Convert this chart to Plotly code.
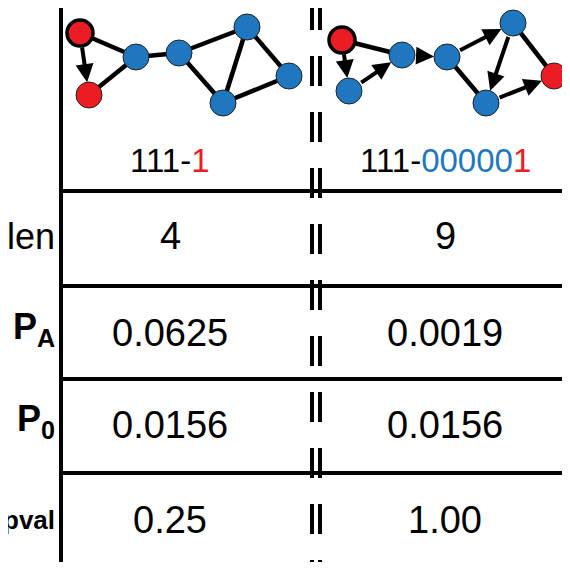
import plotly.graph_objects as go

RED = "#ec1c24"; BLUE = "#1f77c0"
# graph 1
g1_x = [80, 89, 136, 179, 247, 289, 223]
g1_y = [33, 95, 57, 53, 27, 76, 103]
g1_c = [RED, RED, BLUE, BLUE, BLUE, BLUE, BLUE]
g1_edges = [(0,1,True),(0,2,False),(1,2,False),(2,3,False),(3,4,False),(3,6,False),(4,6,False),(4,5,False),(6,5,False)]
# graph 2
g2_x = [342, 349, 402, 447, 513, 554, 486]
g2_y = [40, 91, 55, 57, 23, 76, 103]
g2_c = [RED, BLUE, BLUE, BLUE, BLUE, RED, BLUE]
g2_edges = [(0,1,True),(0,2,False),(1,2,True),(2,3,True),(3,4,True),(4,5,False),(4,6,True),(3,6,False),(6,5,True)]

row_labels = ["len", "<b>P</b><sub><b>A</b></sub>", "<b>P</b><sub><b>0</b></sub>", "<b>pval</b>"]
row_sizes = [36, 36, 36, 26]
col1_vals = ["4", "0.0625", "0.0156", "0.25"]
col2_vals = ["9", "0.0019", "0.0156", "1.00"]
row_centers = [236, 333, 425, 520]
hlines = [2, 191, 286, 379, 473, 566]

OFF = 8  # page body margin
W = 570 - 2 * OFF

fig = go.Figure()
shapes = []
ann = []
R = 13
for xs, ys, cs, edges in [(g1_x, g1_y, g1_c, g1_edges), (g2_x, g2_y, g2_c, g2_edges)]:
    for a, b, arr in edges:
        if arr:
            dx, dy = xs[b]-xs[a], ys[b]-ys[a]
            d = (dx*dx+dy*dy) ** 0.5
            ex, ey = xs[b]-dx/d*R, ys[b]-dy/d*R
            sx, sy = xs[a]+dx/d*R, ys[a]+dy/d*R
            ann.append(dict(x=ex, y=ey, ax=sx, ay=sy, xref="x", yref="y", axref="x", ayref="y",
                            showarrow=True, arrowhead=2, arrowsize=0.9, arrowwidth=4, arrowcolor="black", text=""))
        else:
            shapes.append(dict(type="line", x0=xs[a], y0=ys[a], x1=xs[b], y1=ys[b], line=dict(color="black", width=4.5), layer="below"))
    fig.add_trace(go.Scatter(x=xs, y=ys, mode="markers",
                             marker=dict(size=2*R, color=cs, line=dict(color="#222", width=1)), hoverinfo="skip"))
fig.add_trace(go.Scatter(x=[g1_x[0], g2_x[0]], y=[g1_y[0], g2_y[0]], mode="markers",
                         marker=dict(size=2*R, color=RED, line=dict(color="black", width=3.5)), hoverinfo="skip"))

for y in hlines:
    shapes.append(dict(type="line", x0=61, x1=568, y0=y, y1=y, line=dict(color="black", width=4)))
shapes.append(dict(type="line", x0=61, x1=61, y0=0, y1=568, line=dict(color="black", width=4)))
shapes.append(dict(type="line", x0=567, x1=567, y0=0, y1=568, line=dict(color="black", width=4)))
for x in [312, 320]:
    shapes.append(dict(type="line", x0=x, x1=x, y0=0, y1=570, line=dict(color="black", width=4, dash="30px,26px")))

F = "Arial, Liberation Sans"
ann.append(dict(x=170, y=160, text="111-<span style='color:%s'>1</span>" % RED, showarrow=False, font=dict(size=33, family=F, color="black")))
ann.append(dict(x=445, y=160, text="111-<span style='color:%s'>00000</span><span style='color:%s'>1</span>" % (BLUE, RED),
                showarrow=False, font=dict(size=33, family=F, color="black")))
for i, yc in enumerate(row_centers):
    ann.append(dict(x=57, y=yc-4 if i in (1, 2) else yc, text=row_labels[i], showarrow=False, xanchor="right",
                    font=dict(size=row_sizes[i], family=F, color="black")))
    ann.append(dict(x=170, y=yc, text=col1_vals[i], showarrow=False, font=dict(size=38, family=F, color="black")))
    ann.append(dict(x=445, y=yc, text=col2_vals[i], showarrow=False, font=dict(size=38, family=F, color="black")))
for a in ann:
    a.setdefault("xref", "x"); a.setdefault("yref", "y")

fig.update_layout(width=W, height=W, margin=dict(l=0, r=0, t=0, b=0), showlegend=False,
                  plot_bgcolor="white", paper_bgcolor="white", shapes=shapes, annotations=ann,
                  xaxis=dict(range=[OFF, OFF + W], visible=False, fixedrange=True),
                  yaxis=dict(range=[OFF + W, OFF], visible=False, fixedrange=True))
fig.write_html("out.html")
